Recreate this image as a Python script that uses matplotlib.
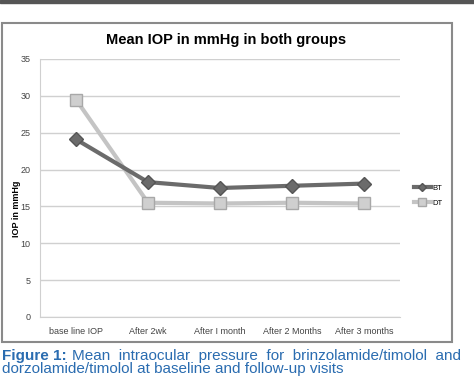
#!/usr/bin/env python3
"""Mean IOP in both groups, Excel-style line chart in a paper figure."""
import matplotlib.pyplot as plt
from matplotlib.patches import Rectangle

categories = ['base line IOP', 'After 2wk', 'After I month',
              'After 2 Months', 'After 3 months']
bt_values = [24.1, 18.3, 17.5, 17.8, 18.1]
dt_values = [29.5, 15.5, 15.4, 15.5, 15.4]
y_ticks = [0, 5, 10, 15, 20, 25, 30, 35]

W, H = 474, 377
fig = plt.figure(figsize=(W / 100, H / 100), dpi=100)
plt.rcParams['font.family'] = ['Liberation Sans', 'DejaVu Sans']


def px(x0, y0, x1, y1):
    """Pixel box (top-left origin) to figure fraction rect."""
    return [x0 / W, 1 - y1 / H, (x1 - x0) / W, (y1 - y0) / H]


# dark band at the top of the screenshot
fig.patches.append(Rectangle((0, 1 - 3 / H), 1, 3 / H, transform=fig.transFigure,
                             color='#555555', zorder=0))
# chart frame
fig.patches.append(Rectangle((2 / W, 1 - 342 / H), 450 / W, 319 / H,
                             transform=fig.transFigure, fill=False,
                             edgecolor='#8a8a8a', linewidth=1.5, zorder=0))

ax = fig.add_axes(px(40, 59, 400, 317))
x = range(len(categories))
ax.plot(x, bt_values, color='#6b6b6b', lw=3, marker='D', ms=7,
        mfc='#6b6b6b', mec='#555555', label='BT', zorder=3)
ax.plot(x, dt_values, color='#c4c4c4', lw=3, marker='s', ms=9,
        mfc='#cfcfcf', mec='#a8a8a8', label='DT', zorder=2)

ax.set_xlim(-0.5, len(categories) - 0.5)
ax.set_ylim(0, 35)
ax.set_yticks(y_ticks)
ax.set_xticks(list(x))
ax.set_xticklabels(categories)
ax.tick_params(axis='both', length=0, labelsize=6.5, colors='#444444', pad=7)
ax.yaxis.grid(True, color='#d0d0d0', lw=1)
ax.set_axisbelow(True)
for side in ('top', 'right'):
    ax.spines[side].set_visible(False)
for side in ('left', 'bottom'):
    ax.spines[side].set_color('#d0d0d0')
ax.set_ylabel('IOP in mmHg', fontsize=6.5, fontweight='bold')
ax.yaxis.set_label_coords(-19 / 360, 0.42)

fig.text(226 / W, 1 - 40 / H, 'Mean IOP in mmHg in both groups',
         ha='center', va='center', fontsize=10.5, fontweight='bold')

ax.legend(loc='center left', bbox_to_anchor=(1.02, 0.47), frameon=False,
          fontsize=5.5, handlelength=2.2, markerscale=0.6, labelspacing=1.0,
          handletextpad=0.2)

blue = '#2a6cb0'
fig.text(2 / W, 1 - 356 / H, 'Figure 1:', color=blue, fontsize=11,
         fontweight='bold', va='center')
fig.text(72 / W, 1 - 356 / H,
         'Mean  intraocular  pressure  for  brinzolamide/timolol  and',
         color=blue, fontsize=11, va='center')
fig.text(2 / W, 1 - 369 / H,
         'dorzolamide/timolol at baseline and follow-up visits',
         color=blue, fontsize=11, va='center')

plt.savefig('out.png', dpi=100)
